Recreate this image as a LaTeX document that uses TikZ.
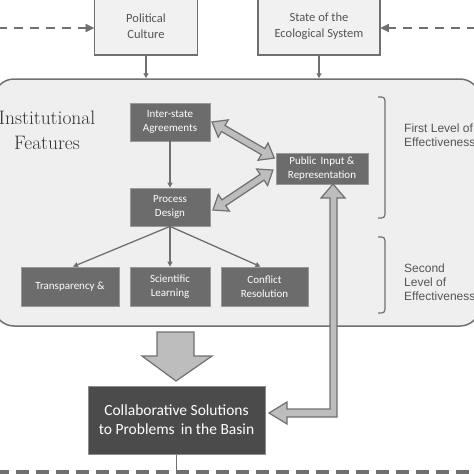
\documentclass[tikz,border=0pt]{standalone}
\usepackage{fontspec}
\newfontfamily\boxfont{Carlito}
\newfontfamily\labfont{Liberation Sans}
\usetikzlibrary{arrows.meta}
\definecolor{edgegray}{HTML}{707070}
\definecolor{panelfill}{HTML}{EFEFEF}
\definecolor{topfill}{HTML}{F1F1F1}
\definecolor{darkfill}{HTML}{6C6C6C}
\definecolor{darkerfill}{HTML}{4B4B4B}
\definecolor{blockfill}{HTML}{BDBDBD}
\definecolor{textgray}{HTML}{555555}
\tikzset{
  panel/.style={draw=edgegray, fill=panelfill, line width=1.5pt, rounded corners=20pt},
  topbox/.style={draw=edgegray, fill=topfill, line width=1.5pt, text=textgray,
    font=\boxfont\fontsize{12.5}{16}\selectfont, align=center, inner sep=0pt},
  darkbox/.style={draw=gray!80, fill=darkfill, line width=0.8pt, text=white,
    font=\boxfont\fontsize{11}{14}\selectfont, align=center, inner sep=0pt},
  solbox/.style={draw=gray!90, fill=darkerfill, line width=1pt, text=white,
    font=\boxfont\fontsize{15.5}{19}\selectfont, align=center, inner sep=0pt},
  thinarrow/.style={draw=edgegray, line width=1.3pt, -{Triangle[length=5pt,width=5pt]}},
  dashline/.style={draw=edgegray, line width=2.5pt, dash pattern=on 9pt off 7pt},
  bottomdash/.style={draw=edgegray, line width=5pt, dash pattern=on 13pt off 7pt},
  blockarrow/.style={draw=edgegray, fill=blockfill, line width=1.2pt, line join=miter},
  bracket/.style={draw=edgegray, line width=1.2pt},
  sidelabel/.style={text=textgray, font=\labfont\fontsize{12}{14}\selectfont, align=left, anchor=west, inner sep=0pt},
}
\begin{document}
\begin{tikzpicture}[x=1pt,y=-1pt]
\useasboundingbox (0,0) rectangle (474,474);
\clip (0,0) rectangle (474,474);

% panel
\node[panel, minimum width=486pt, minimum height=247pt, inner sep=0pt] (inst) at (237,202.5) {};

% top boxes
\node[topbox, minimum width=103pt, minimum height=57pt] (pc) at (146,26.5) {Political\\Culture};
\node[topbox, minimum width=122pt, minimum height=57pt] (es) at (319,26.5) {State of the\\Ecological System};

% dashed inputs
\coordinate (dl) at (-2,28);
\coordinate (dr) at (476,28);
\draw[dashline] (dl) -- (pc.west |- dl);
\draw[edgegray, fill=edgegray] ([xshift=-8pt,yshift=-4pt]pc.west |- dl) -- (pc.west |- dl) -- ([xshift=-8pt,yshift=4pt]pc.west |- dl) -- cycle;
\draw[dashline] (dr) -- (es.east |- dr);
\draw[edgegray, fill=edgegray] ([xshift=8pt,yshift=-4pt]es.east |- dr) -- (es.east |- dr) -- ([xshift=8pt,yshift=4pt]es.east |- dr) -- cycle;

\draw[thinarrow] (pc.south) -- (pc.south |- inst.north);
\draw[thinarrow] (es.south) -- (es.south |- inst.north);

% title
\node[font=\fontsize{19.5}{25}\selectfont, text=black!80, align=center, inner sep=0pt] (title) at (47,130) {Institutional\\Features};

% dark boxes
\node[darkbox, minimum width=80pt, minimum height=38pt] (isa) at (170,122) {Inter-state\\Agreements};
\node[darkbox, minimum width=92pt, minimum height=31pt] (pub) at (322,168.5) {Public\, Input \&\\Representation};
\node[darkbox, minimum width=80pt, minimum height=38pt] (pd) at (170,207) {Process\\Design};
\node[darkbox, minimum width=98pt, minimum height=39pt] (tr) at (70,286.5) {Transparency \&};
\node[darkbox, minimum width=80pt, minimum height=39pt] (sl) at (170,286.5) {Scientific\\Learning};
\node[darkbox, minimum width=87pt, minimum height=39pt] (cr) at (264.5,286.5) {Conflict\\Resolution};
\node[solbox, minimum width=177pt, minimum height=68pt] (cs) at (176.5,420) {Collaborative Solutions\\to Problems\, in the Basin};

\draw[thinarrow] (isa.south) -- (pd.north);
\draw[thinarrow] (pd.south) -- ([xshift=3pt]tr.north);
\draw[thinarrow] (pd.south) -- (sl.north);
\draw[thinarrow] (pd.south) -- ([xshift=-4pt]cr.north);

% double block arrows
\begin{scope}[shift={(212,122)}, rotate=-30.1]
\draw[blockarrow] (0,0) -- (13,-10) -- (13,-3.5) -- (59,-3.5) -- (59,-10) -- (72,0) -- (59,10) -- (59,3.5) -- (13,3.5) -- (13,10) -- cycle;
\end{scope}
\begin{scope}[shift={(213,210)}, rotate=33.7]
\draw[blockarrow] (0,0) -- (13,-10) -- (13,-3.5) -- (59,-3.5) -- (59,-10) -- (72,0) -- (59,10) -- (59,3.5) -- (13,3.5) -- (13,10) -- cycle;
\end{scope}

% big down arrow
\draw[blockarrow] (157,332) -- (194,332) -- (194,356) -- (212,356) -- (176,381) -- (142,356) -- (157,356) -- cycle;

% bent feedback arrow
\draw[blockarrow] (333,184) -- (345,198) -- (337,198) -- (337,417) -- (287,417) -- (287,424) -- (269,413) -- (287,402) -- (287,409) -- (330,409) -- (330,198) -- (321,198) -- cycle;

% brackets
\draw[bracket] (378,97) .. controls (385,97) .. (385,105) -- (385,210) .. controls (385,218) .. (378,218);
\draw[bracket] (378,237) .. controls (385,237) .. (385,245) -- (385,305) .. controls (385,313) .. (378,313);

\node[sidelabel] (lab1) at (404,135) {First Level of\\Effectiveness};
\node[sidelabel] (lab2) at (404,282) {Second\\Level of\\Effectiveness};

% bottom
\coordinate (bl) at (-4,472);
\coordinate (br) at (480,472);
\draw[bottomdash] (bl) -- (br);
\draw[edgegray, line width=1.5pt] (cs.south) -- (cs.south |- bl);
\end{tikzpicture}
\end{document}
